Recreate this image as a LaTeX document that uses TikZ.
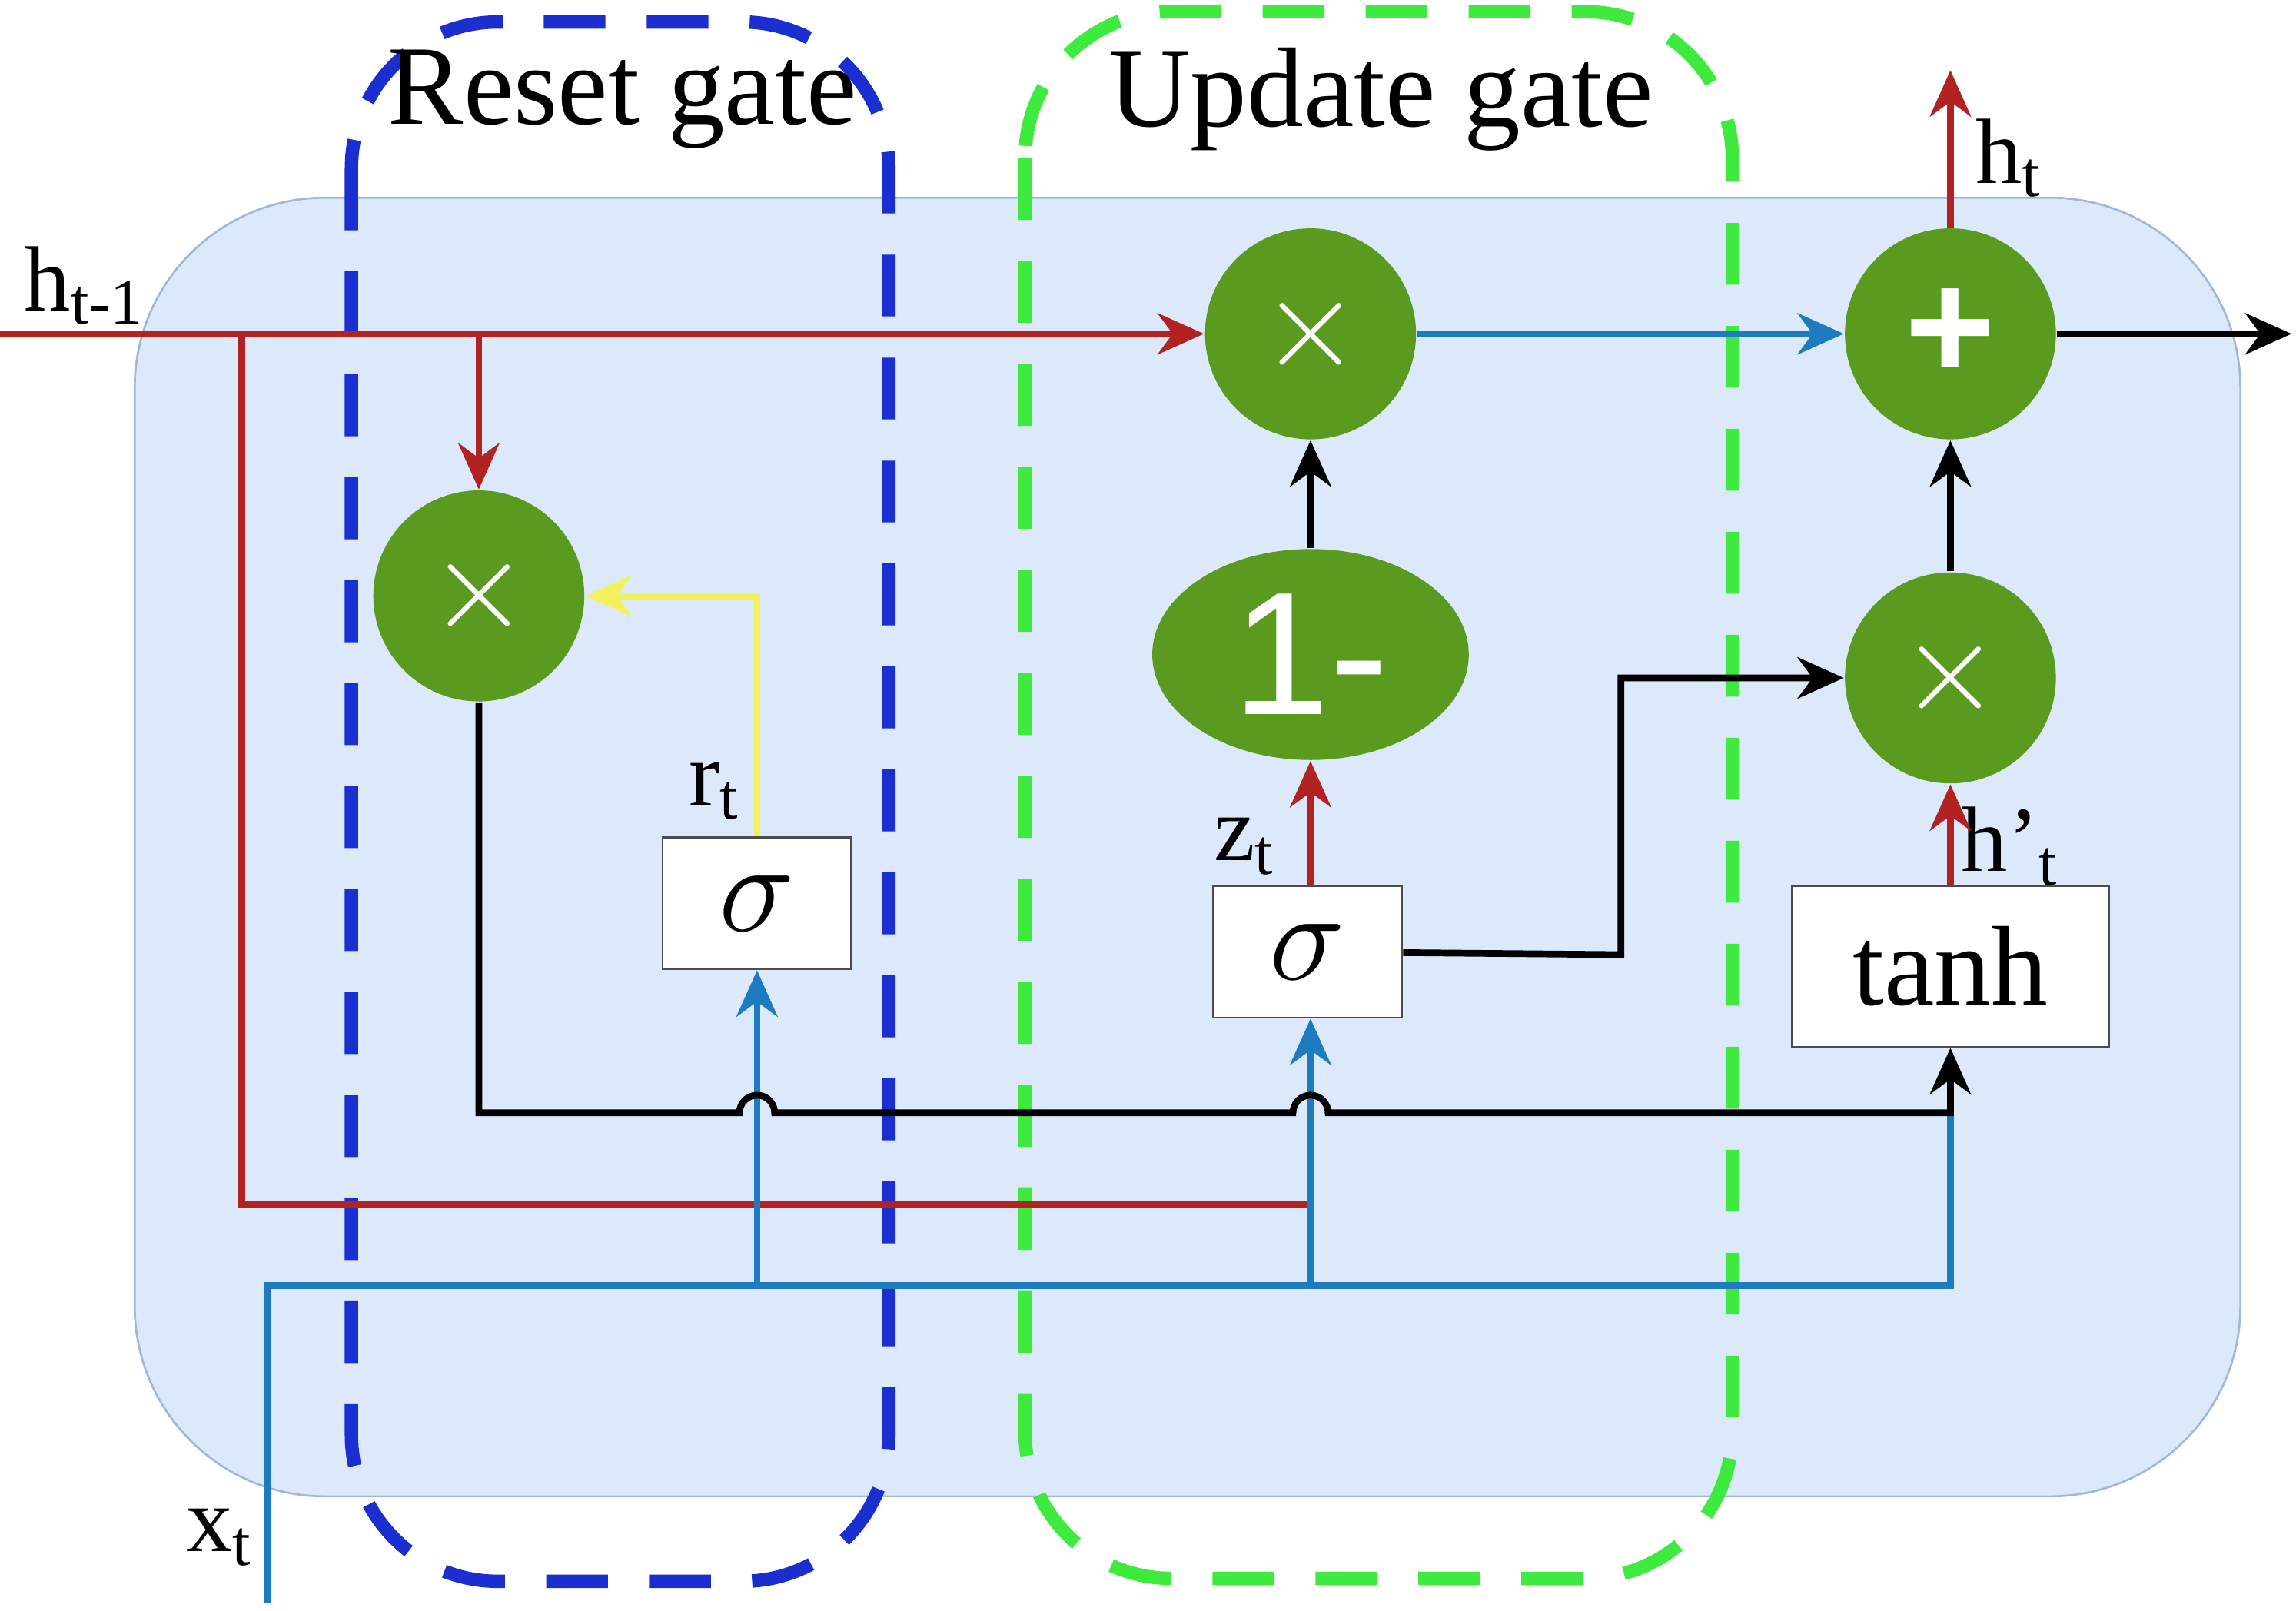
\documentclass[tikz,border=0pt]{standalone}
\usepackage{fontspec}
\setmainfont{Liberation Serif}
\newfontfamily\opfont{Liberation Sans}
\usetikzlibrary{arrows.meta,shapes.geometric}
\definecolor{cellbg}{HTML}{DCE9FB}
\definecolor{cellline}{HTML}{9DB8D9}
\definecolor{opgreen}{HTML}{5A9A1E}
\definecolor{wred}{HTML}{B22222}
\definecolor{wblue}{HTML}{1F7BC0}
\definecolor{wyellow}{HTML}{F4F25A}
\definecolor{rgate}{HTML}{1B2FD0}
\definecolor{ugate}{HTML}{3FEA3F}
\newcommand{\gruop}[3]{\node[op] at (#1) (#2) {#3}}
\newcommand{\grubox}[4][]{\node[actbox,#1] at (#2) (#3) {#4}}
\begin{document}
\begin{tikzpicture}[x=0.01cm,y=-0.01cm,
  op/.style={circle,fill=opgreen,minimum size=1.44cm,inner sep=0pt,text=white,font=\opfont\bfseries\fontsize{30}{30}\selectfont},
  actbox/.style={draw=black!70,fill=white,inner sep=0pt},
  lbl/.style={font=\fontsize{18}{20}\selectfont},
  wire/.style={line width=1.3pt},
  arr/.style={wire,-{Stealth[length=9pt,width=8pt]}}]
\useasboundingbox (0,0) rectangle (1568,1100);
% cell
\draw[cellline,fill=cellbg,rounded corners=1.3cm] (92,135) rectangle (1530,1022);
% gates
\draw[rgate,line width=2.6pt,dash pattern=on 12pt off 8pt,rounded corners=1cm] (240,15) rectangle (607,1080);
\draw[ugate,line width=2.6pt,dash pattern=on 12pt off 8pt,rounded corners=1cm] (700,8) rectangle (1183,1078);
\node[lbl,font=\fontsize{22}{24}\selectfont] (rgatelbl) at (425,68) {Reset gate};
\node[lbl,font=\fontsize{22}{24}\selectfont] (ugatelbl) at (943,68) {Update gate};
% operations
\gruop{895,228}{mulh}{$\times$};
\gruop{1332,228}{plus}{+};
\gruop{327,407}{mulr}{$\times$};
\gruop{1332,463}{mulz}{$\times$};
\node[ellipse,fill=opgreen,minimum width=2.16cm,minimum height=1.44cm,inner sep=0pt,text=white,font=\opfont\fontsize{34}{34}\selectfont] at (895,447) (oneminus) {1-};
\grubox[minimum width=1.29cm,minimum height=0.9cm]{517,617}{sigr}{\fontsize{36}{36}\selectfont$\sigma$};
\grubox[minimum width=1.29cm,minimum height=0.9cm]{893,650}{sigz}{\fontsize{36}{36}\selectfont$\sigma$};
\grubox[minimum width=2.16cm,minimum height=1.1cm,font=\fontsize{22}{24}\selectfont]{1332,660}{tanh}{tanh};
% labels
\node[lbl] (hprev) at (58,195) {h\textsubscript{t-1}};
\node[lbl] (hout) at (1372,108) {h\textsubscript{t}};
\node[lbl] (rlbl) at (488,540) {r\textsubscript{t}};
\node[lbl] (zlbl) at (850,578) {z\textsubscript{t}};
\node[lbl] (hplbl) at (1373,578) {h'\textsubscript{t}};
\node[lbl] (xlbl) at (150,1050) {x\textsubscript{t}};
% coordinates
\coordinate (hin) at (0,228);
\coordinate (xin) at (183,1095);
\coordinate (out) at (1565,228);
\coordinate (top) at (1332,48);
% h_{t-1} wires
\draw[arr,wred] (hin) -- (mulh);
\draw[arr,wred] (327,228) -- (mulr);
\draw[wire,wred] (165,228) -- (165,823) -- (895,823);
% x_t wires
\draw[wire,wblue] (xin) -- (183,878) -- (1332,878) -- (1332,760);
\draw[arr,wblue] (517,878) -- (sigr);
\draw[arr,wblue] (895,878) -- (sigz.south -| 895,0);
% reset path
\draw[arr,wyellow] (sigr) -- (517,407) -- (mulr);
\draw[arr] (mulr) -- (327,760) -- (505,760) arc[start angle=180,end angle=360,x radius=12,y radius=12]
  -- (883,760) arc[start angle=180,end angle=360,x radius=12,y radius=12] -- (1332,760) -- (tanh);
% update path
\draw[arr,wred] (sigz.north -| 895,0) -- (oneminus);
\draw[arr] (oneminus) -- (mulh);
\draw[arr] (sigz) -- (1107,652) -- (1107,463) -- (mulz);
\draw[arr,wred] (tanh) -- (mulz);
\draw[arr] (mulz) -- (plus);
\draw[arr,wblue] (mulh) -- (plus);
\draw[arr] (plus) -- (out);
\draw[arr,wred] (plus) -- (top);
\end{tikzpicture}
\end{document}
